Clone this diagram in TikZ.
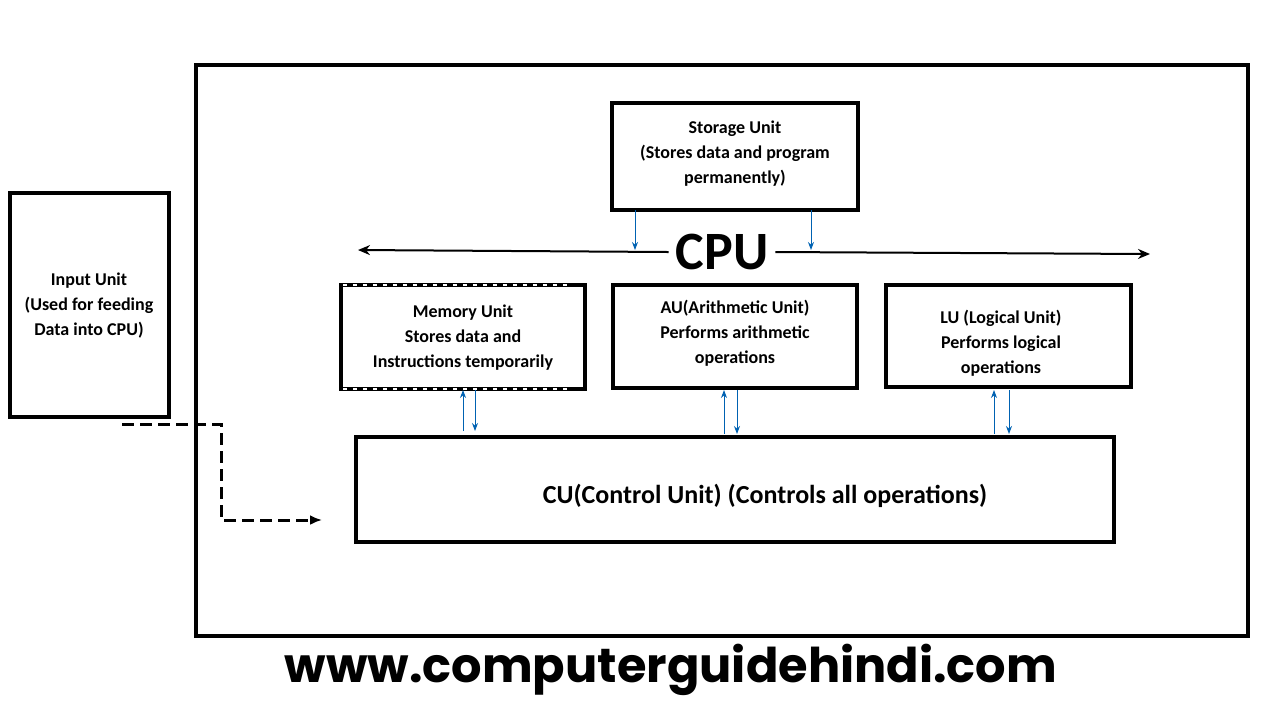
\documentclass[tikz,border=0pt]{standalone}
\usetikzlibrary{arrows.meta}
\usepackage{fontspec}
\setmainfont{Carlito}
\newfontfamily\urlf{Poppins}
\begin{document}
\begin{tikzpicture}[x=0.5pt,y=-0.5pt,
  box/.style={draw,line width=2.2pt,inner sep=0pt},
  lbl/.style={font=\bfseries\fontsize{9}{12.5}\selectfont,align=center},
  blue/.style={draw=blue!45!cyan!70!black,line width=0.5pt,-{Stealth[length=4pt,width=3pt]}}]
\useasboundingbox (0,0) rectangle (1280,720);
\draw[line width=2.2pt] (196,65) rectangle (1248,636);
\draw[box] (10,193) rectangle (169,417);
\node[lbl] (in) at (89,306) {Input Unit\\(Used for feeding\\Data into CPU)};
\draw[box] (612,103) rectangle (858,210);
\node[lbl] (st) at (735,154) {Storage Unit\\(Stores data and program\\permanently)};
\node[font=\bfseries\fontsize{27}{30}\selectfont] (cpu) at (722,252) {CPU};
\draw[line width=1pt,-{Stealth[length=6pt,width=5pt]}] (cpu.west) -- (358,250);
\draw[line width=1pt,-{Stealth[length=6pt,width=5pt]}] (cpu.east) -- (1150,254);
\draw[box] (341,285) rectangle (585,389);
\draw[white,line width=1pt,dash pattern=on 2pt off 3pt] (343,285) -- (570,285) (343,389) -- (570,389);
\node[lbl] (mem) at (463,338) {Memory Unit\\Stores data and\\Instructions temporarily};
\draw[box] (613,285) rectangle (857,388);
\node[lbl] (au) at (735,333) {AU(Arithmetic Unit)\\Performs arithmetic\\operations};
\draw[box] (886,285) rectangle (1131,387);
\node[lbl] (lu) at (1001,343) {LU (Logical Unit)\\Performs logical\\operations};
\draw[box] (356,437) rectangle (1114,542);
\node[font=\bfseries\fontsize{13}{15}\selectfont] (cu) at (765,496) {CU(Control Unit) (Controls all operations)};
\draw[blue] (635,210) -- (635,250);
\draw[blue] (811,210) -- (811,250);
\draw[blue] (463,431) -- (463,390);
\draw[blue] (475,390) -- (475,431);
\draw[blue] (724,434) -- (724,390);
\draw[blue] (737,390) -- (737,434);
\draw[blue] (994,434) -- (994,390);
\draw[blue] (1009,390) -- (1009,434);
\coordinate (d0) at (122,424);
\coordinate (d1) at (322,520);
\draw[line width=1.5pt,dash pattern=on 6pt off 3pt,-{Latex[length=6pt,width=5pt]}] (d0) -- (221,424) -- (221,520) -- (d1);
\node (url) at (671,670) {\resizebox{386pt}{!}{\urlf\bfseries www.computerguidehindi.com}};
\end{tikzpicture}
\end{document}
